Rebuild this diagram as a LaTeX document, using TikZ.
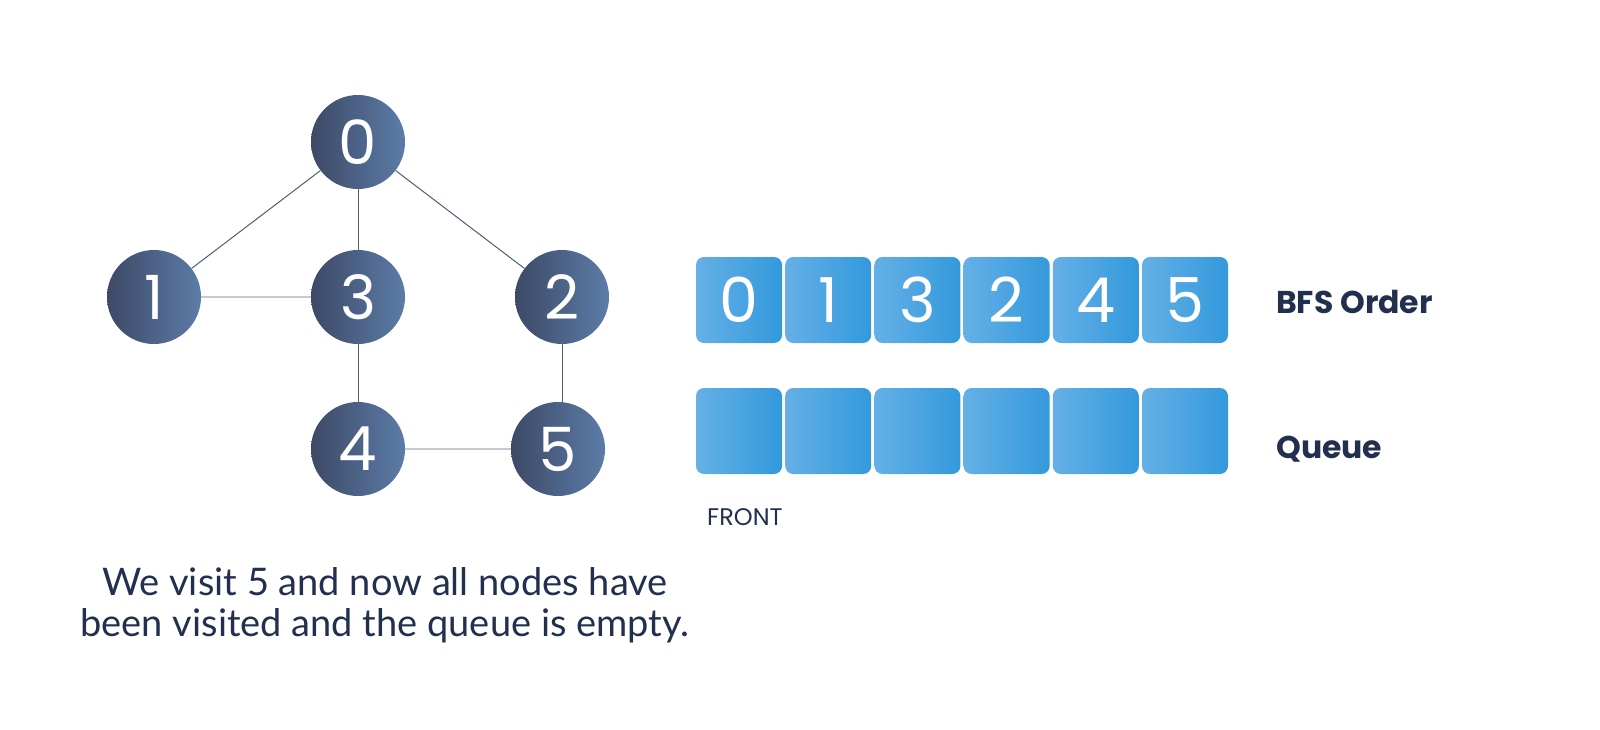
\documentclass[tikz,border=0pt]{standalone}
\usepackage{fontspec}
\setmainfont{Poppins}
\newfontfamily\capfont{Lato}
\definecolor{navy}{HTML}{22304F}
\definecolor{cl}{HTML}{3D4966}
\definecolor{cr}{HTML}{5C7CA8}
\definecolor{bl}{HTML}{65B0E6}
\definecolor{br}{HTML}{3399DC}
\definecolor{edgec}{HTML}{505C74}
\definecolor{edgel}{HTML}{C6C9D1}
\tikzset{
  gnode/.style={circle, minimum size=94pt, inner sep=0pt, left color=cl, right color=cr, draw=none, text=white, font=\fontsize{61}{61}\selectfont},
  gedge/.style={draw=edgec, line width=1pt},
  gedgelight/.style={draw=edgel, line width=1.6pt},
  cell/.style={rectangle, rounded corners=8pt, minimum width=86pt, minimum height=86pt, inner sep=0pt, left color=bl, right color=br, draw=none, text=white, font=\fontsize{62}{62}\selectfont},
  lbl/.style={text=navy, anchor=west, inner sep=0pt, font=\bfseries\fontsize{31.5}{31.5}\selectfont}
}
\begin{document}
\begin{tikzpicture}[x=1pt,y=-1pt]
\useasboundingbox (0,0) rectangle (1600,730);
% graph
\node[gnode] (n0) at (358,142) {0};
\node[gnode] (n1) at (154,297) {1};
\node[gnode] (n3) at (358,297) {3};
\node[gnode] (n2) at (562,297) {2};
\node[gnode] (n4) at (358,449) {4};
\node[gnode] (n5) at (558,449) {5};
\draw[gedge] (n0) -- (n1);
\draw[gedge] (n0) -- (n3);
\draw[gedge] (n0) -- (n2);
\draw[gedge] (n3) -- (n4);
\draw[gedge] (n2.south) -- (n2.south |- n5.north);
\draw[gedgelight] (n1) -- (n3);
\draw[gedgelight] (n4) -- (n5);
% BFS order cells
\foreach \i/\d in {0/0,1/1,2/3,3/2,4/4,5/5}{
  \node[cell] (b\i) at (739+\i*89.2,300) {\d};
  \node[cell] (q\i) at (739+\i*89.2,431) {};
}
\node[lbl] (bfs) at (1276,302) {BFS Order};
\node[lbl] (queue) at (1276,449) {Queue};
\node[text=navy, anchor=west, inner sep=0pt, font=\fontsize{24}{24}\selectfont] (front) at (707,517) {FRONT};
\node[text=navy, align=center, inner sep=0pt, font=\capfont\fontsize{38}{41}\selectfont] (caption) at (385,605) {We visit 5 and now all nodes have\\been visited and the queue is empty.};
\end{tikzpicture}
\end{document}
